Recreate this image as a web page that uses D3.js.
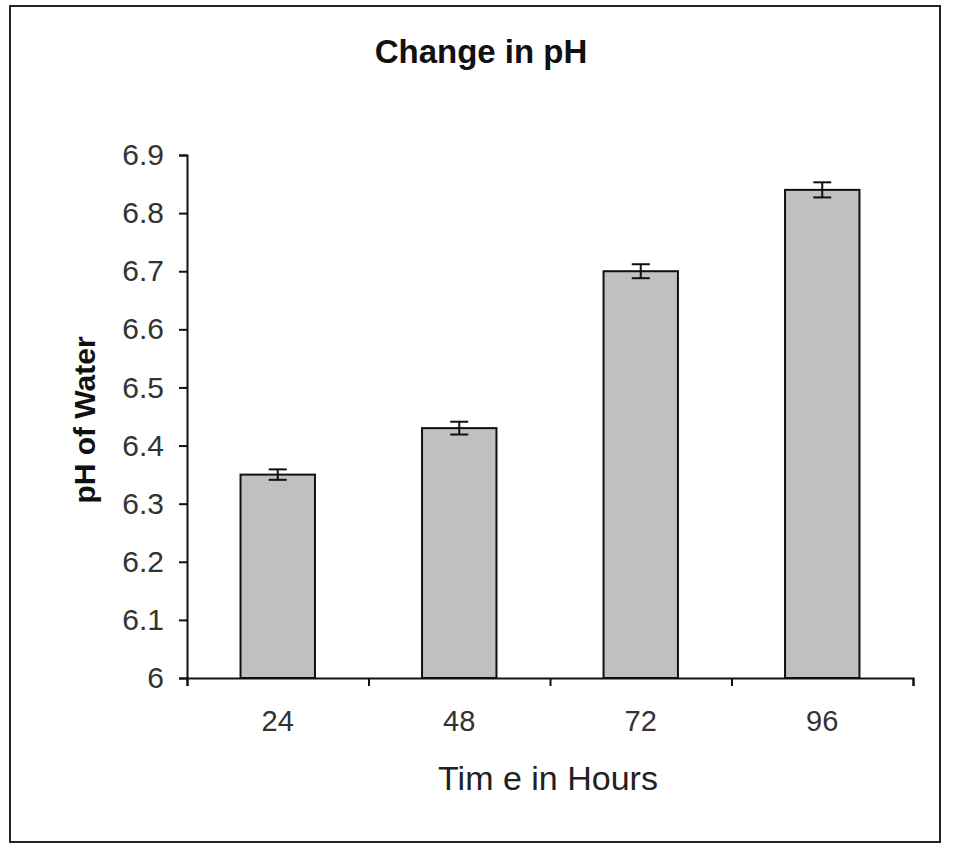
<!DOCTYPE html>
<html>
<head>
<meta charset="utf-8">
<script src="https://cdn.jsdelivr.net/npm/d3@7"></script>
<style>
  html, body { margin: 0; padding: 0; background: #fff; }
  text { font-family: "Liberation Sans", Arial, sans-serif; }
</style>
</head>
<body>
<svg id="chart" width="976" height="850"></svg>
<script>
// ---- data ----
const categories = ["24", "48", "72", "96"];
const phValues = [6.35, 6.43, 6.70, 6.84];
const phErrors = [0.009, 0.011, 0.012, 0.013];
const yTicks = [6, 6.1, 6.2, 6.3, 6.4, 6.5, 6.6, 6.7, 6.8, 6.9];
const chartTitle = "Change in pH";
const xTitle = "Tim e in Hours";
const yTitle = "pH of Water";

// ---- layout ----
const svg = d3.select("#chart");
const plot = { left: 187, right: 913, top: 155, bottom: 678 };

svg.append("rect")
  .attr("x", 10).attr("y", 6).attr("width", 930).attr("height", 836)
  .attr("fill", "#fff").attr("stroke", "#222").attr("stroke-width", 2);

const x = d3.scaleBand().domain(categories).range([plot.left, plot.right])
  .paddingInner(0.59).paddingOuter(0.295);
const y = d3.scaleLinear().domain([6, 6.9]).range([plot.bottom, plot.top]);

// bars
svg.append("g").selectAll("rect").data(categories).join("rect")
  .attr("x", d => x(d))
  .attr("y", (d, i) => y(phValues[i]))
  .attr("width", x.bandwidth())
  .attr("height", (d, i) => y(6) - y(phValues[i]))
  .attr("fill", "#c0c0c0").attr("stroke", "#111").attr("stroke-width", 2);

// error bars
const eb = svg.append("g").attr("stroke", "#111").attr("stroke-width", 2);
categories.forEach((c, i) => {
  const cx = x(c) + x.bandwidth() / 2;
  const yt = y(phValues[i] + phErrors[i]), yb = y(phValues[i] - phErrors[i]);
  eb.append("line").attr("x1", cx).attr("x2", cx).attr("y1", yt).attr("y2", yb);
  eb.append("line").attr("x1", cx - 9).attr("x2", cx + 9).attr("y1", yt).attr("y2", yt);
  eb.append("line").attr("x1", cx - 9).attr("x2", cx + 9).attr("y1", yb).attr("y2", yb);
});

// y axis
const yAxis = d3.axisLeft(y).tickValues(yTicks).tickSize(8).tickPadding(15)
  .tickFormat(d => d === 6 ? "6" : d3.format(".1f")(d));
const gy = svg.append("g").attr("transform", `translate(${plot.left},0)`).call(yAxis);
gy.select(".domain").attr("stroke", "#111").attr("stroke-width", 2);
gy.selectAll(".tick line").attr("stroke", "#111").attr("stroke-width", 2);
gy.selectAll(".tick text").attr("font-size", 30).attr("fill", "#333")
  .attr("font-family", "Liberation Sans, Arial, sans-serif");

// x axis (ticks at category boundaries)
const xLin = d3.scaleLinear().domain([0, categories.length]).range([plot.left, plot.right]);
const gx = svg.append("g").attr("transform", `translate(0,${plot.bottom})`)
  .call(d3.axisBottom(xLin).ticks(categories.length).tickSize(8).tickFormat(""));
gx.select(".domain").attr("stroke", "#111").attr("stroke-width", 2);
gx.selectAll(".tick line").attr("stroke", "#111").attr("stroke-width", 2);

svg.append("g").selectAll("text").data(categories).join("text")
  .attr("x", d => x(d) + x.bandwidth() / 2)
  .attr("y", plot.bottom + 53)
  .attr("text-anchor", "middle")
  .attr("font-size", 29).attr("fill", "#333")
  .text(d => d);

// titles
svg.append("text").attr("x", 481).attr("y", 63).attr("text-anchor", "middle")
  .attr("font-size", 33).attr("font-weight", "bold").attr("fill", "#111")
  .text(chartTitle);

svg.append("text").attr("x", 548).attr("y", 790).attr("text-anchor", "middle")
  .attr("font-size", 34).attr("fill", "#222")
  .text(xTitle);

svg.append("text")
  .attr("transform", "translate(95,420) rotate(-90)")
  .attr("text-anchor", "middle")
  .attr("font-size", 30).attr("font-weight", "bold").attr("fill", "#111")
  .text(yTitle);
</script>
</body>
</html>
